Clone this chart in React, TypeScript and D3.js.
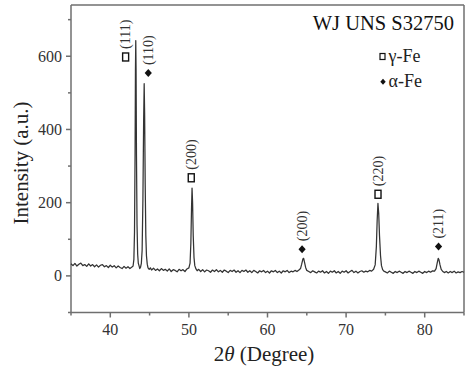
import React from "react";
import * as d3 from "d3";

// 2θ (degree), intensity (a.u.)
const twoTheta: number[] = [
  35.0, 35.25, 35.5, 35.75, 36.0, 36.25, 36.5, 36.75, 37.0, 37.25, 37.5, 37.75, 38.0, 38.25, 38.5, 38.75,
  39.0, 39.25, 39.5, 39.75, 40.0, 40.25, 40.5, 40.75, 41.0, 41.25, 41.5, 41.75, 42.0, 42.25, 42.5, 42.75,
  42.9, 43.0, 43.08, 43.15, 43.2, 43.24, 43.28, 43.33, 43.4, 43.48, 43.56, 43.65, 43.75, 43.85, 43.95,
  44.05, 44.15, 44.24, 44.31, 44.37, 44.44, 44.52, 44.6, 44.7, 44.8, 44.95, 45.1, 45.25, 45.5, 45.75,
  46.0, 46.25, 46.5, 46.75, 47.0, 47.25, 47.5, 47.75, 48.0, 48.25, 48.5, 48.75, 49.0, 49.25, 49.5, 49.75,
  50.0, 50.15, 50.25, 50.33, 50.4, 50.47, 50.55, 50.65, 50.75, 50.9, 51.05, 51.25, 51.5, 51.75, 52.0,
  52.25, 52.5, 52.75, 53.0, 53.25, 53.5, 53.75, 54.0, 54.25, 54.5, 54.75, 55.0, 55.25, 55.5, 55.75, 56.0,
  56.25, 56.5, 56.75, 57.0, 57.25, 57.5, 57.75, 58.0, 58.25, 58.5, 58.75, 59.0, 59.25, 59.5, 59.75, 60.0,
  60.25, 60.5, 60.75, 61.0, 61.25, 61.5, 61.75, 62.0, 62.25, 62.5, 62.75, 63.0, 63.25, 63.5, 63.75, 64.0,
  64.2, 64.35, 64.5, 64.6, 64.72, 64.85, 65.0, 65.25, 65.5, 65.75, 66.0, 66.25, 66.5, 66.75, 67.0, 67.25,
  67.5, 67.75, 68.0, 68.25, 68.5, 68.75, 69.0, 69.25, 69.5, 69.75, 70.0, 70.25, 70.5, 70.75, 71.0, 71.25,
  71.5, 71.75, 72.0, 72.25, 72.5, 72.75, 73.0, 73.25, 73.5, 73.7, 73.85, 73.95, 74.05, 74.15, 74.25,
  74.38, 74.5, 74.65, 74.8, 75.0, 75.25, 75.5, 75.75, 76.0, 76.25, 76.5, 76.75, 77.0, 77.25, 77.5, 77.75,
  78.0, 78.25, 78.5, 78.75, 79.0, 79.25, 79.5, 79.75, 80.0, 80.25, 80.5, 80.75, 81.0, 81.25, 81.45, 81.6,
  81.72, 81.82, 81.95, 82.1, 82.3, 82.5, 82.75, 83.0, 83.25, 83.5, 83.75, 84.0, 84.25, 84.5, 84.75, 85.0,
];
const intensity: number[] = [
  33, 28, 34, 27, 32, 35, 28, 31, 26, 33, 27, 31, 25, 30, 24, 29,
  31, 25, 28, 23, 29, 24, 28, 22, 27, 23, 20, 26, 21, 25, 20, 24,
  27, 45, 120, 330, 560, 643, 560, 330, 140, 60, 35, 28, 20, 24, 34,
  70, 210, 420, 525, 440, 250, 110, 55, 32, 22, 18, 22, 16, 21, 15,
  19, 14, 20, 15, 18, 13, 19, 12, 17, 15, 11, 18, 14, 17, 12, 19,
  22, 35, 90, 180, 240, 200, 110, 50, 28, 19, 14, 18, 12, 17, 11,
  16, 14, 10, 16, 12, 17, 11, 15, 10, 16, 13, 9, 15, 12, 16, 10,
  14, 9, 15, 12, 16, 10, 14, 9, 15, 12, 8, 14, 11, 15, 9, 13,
  8, 14, 11, 15, 9, 13, 8, 14, 11, 15, 9, 13, 11, 15, 12, 16,
  20, 32, 46, 48, 36, 23, 15, 12, 9, 14, 11, 8, 13, 10, 14, 8,
  12, 7, 13, 10, 14, 8, 12, 7, 13, 10, 14, 8, 12, 15, 9, 13,
  8, 12, 14, 10, 13, 11, 15, 13, 18, 30, 80, 150, 198, 170, 110,
  55, 28, 17, 13, 11, 8, 13, 10, 7, 12, 9, 13, 10, 7, 12, 9,
  13, 10, 7, 12, 9, 13, 10, 7, 12, 9, 13, 10, 14, 13, 20, 36,
  48, 44, 30, 18, 12, 9, 12, 8, 12, 9, 13, 8, 11, 9, 12, 10,
];

const xTicks = [40, 50, 60, 70, 80];
const xMinorTicks = [35, 45, 55, 65, 75, 85];
const yTicks = [0, 200, 400, 600];
const yMinorTicks = [-100, 100, 300, 500, 700];

const peakLabels = ["(111)", "(110)", "(200)", "(200)", "(220)", "(211)"];
const peakPhase = ["γ", "α", "γ", "α", "γ", "α"];
const markerTheta = [41.95, 44.83, 50.3, 64.4, 74.06, 81.76];
const markerIntensity = [598, 554, 268, 73, 223, 80];

const legendLabels = ["γ-Fe", "α-Fe"];
const sampleTitle = "WJ UNS S32750";

const W = 474;
const H = 369;
const M = { left: 71, right: 464, top: 5, bottom: 312.5 };
const FONT = "'Liberation Serif', 'Times New Roman', serif";
const AXIS = "#6f6f6f";

const diamond = (cx: number, cy: number, r: number) =>
  `M${cx},${cy - r}L${cx + r * 0.9},${cy}L${cx},${cy + r}L${cx - r * 0.9},${cy}Z`;

export default function App() {
  const x = d3.scaleLinear().domain([35, 85]).range([M.left, M.right]);
  const y = d3.scaleLinear().domain([-100, 740]).range([M.bottom, M.top]);
  const line = d3
    .line<number>()
    .x((_, i) => x(twoTheta[i]))
    .y((d) => y(d));
  const path = line(intensity) || "";

  return (
    <svg
      width={W}
      height={H}
      style={{ position: "absolute", left: 0, top: 0, background: "#fff" }}
      fontFamily={FONT}
    >
      {/* frame */}
      <line x1={M.left} x2={M.right} y1={M.top} y2={M.top} stroke={AXIS} strokeWidth={1.5} />
      <line x1={M.right} x2={M.right} y1={M.top} y2={M.bottom} stroke={AXIS} strokeWidth={1.5} />
      <line x1={M.left} x2={M.right} y1={M.bottom} y2={M.bottom} stroke={AXIS} strokeWidth={1.5} />
      <line x1={M.left} x2={M.left} y1={M.top} y2={M.bottom} stroke={AXIS} strokeWidth={1.5} />

      {/* data */}
      <path d={path} fill="none" stroke="#333" strokeWidth={1.25} strokeLinejoin="round" />

      {/* x ticks */}
      {xTicks.map((t) => (
        <g key={"xt" + t}>
          <line x1={x(t)} x2={x(t)} y1={M.bottom} y2={M.bottom + 5} stroke={AXIS} strokeWidth={1.5} />
          <text x={x(t)} y={335} textAnchor="middle" fontSize={16} fill="#333">
            {t}
          </text>
        </g>
      ))}
      {xMinorTicks.map((t) => (
        <line key={"xm" + t} x1={x(t)} x2={x(t)} y1={M.bottom} y2={M.bottom + 3} stroke={AXIS} strokeWidth={1.5} />
      ))}
      {/* y ticks */}
      {yTicks.map((t) => (
        <g key={"yt" + t}>
          <line x1={M.left - 5} x2={M.left} y1={y(t)} y2={y(t)} stroke={AXIS} strokeWidth={1.5} />
          <text x={M.left - 9} y={y(t)} dy="0.35em" textAnchor="end" fontSize={16} fill="#333">
            {t}
          </text>
        </g>
      ))}
      {yMinorTicks.map((t) => (
        <line key={"ym" + t} x1={M.left - 3} x2={M.left} y1={y(t)} y2={y(t)} stroke={AXIS} strokeWidth={1.5} />
      ))}

      {/* peak annotations */}
      {markerTheta.map((t, i) => {
        const cx = x(t);
        const cy = y(markerIntensity[i]);
        return (
          <g key={"pk" + i}>
            {peakPhase[i] === "γ" ? (
              <rect x={cx - 3} y={cy - 4} width={6} height={8} fill="#fff" stroke="#111" strokeWidth={1.4} />
            ) : (
              <path d={diamond(cx, cy, 4)} fill="#111" />
            )}
            <text
              transform={`translate(${cx},${cy - 8}) rotate(-90)`}
              dominantBaseline="central"
              textAnchor="start"
              fontSize={14}
              fill="#333"
            >
              {peakLabels[i]}
            </text>
          </g>
        );
      })}

      {/* title & legend */}
      <text x={454} y={30} textAnchor="end" fontSize={20.5} fill="#111">
        {sampleTitle}
      </text>
      <rect x={380} y={53.5} width={5} height={6} fill="#fff" stroke="#111" strokeWidth={1.2} />
      <text x={388.5} y={61.5} fontSize={18} fill="#222">
        {legendLabels[0]}
      </text>
      <path d={diamond(383, 81.7, 3)} fill="#111" />
      <text x={388.5} y={87} fontSize={18} fill="#222">
        {legendLabels[1]}
      </text>

      {/* axis titles */}
      <text
        transform={`translate(21,163) rotate(-90)`}
        textAnchor="middle"
        dominantBaseline="central"
        fontSize={21}
        fill="#222"
      >
        Intensity (a.u.)
      </text>
      <text x={264} y={361} textAnchor="middle" fontSize={21} fill="#222">
        2<tspan fontStyle="italic">θ</tspan> (Degree)
      </text>
    </svg>
  );
}
